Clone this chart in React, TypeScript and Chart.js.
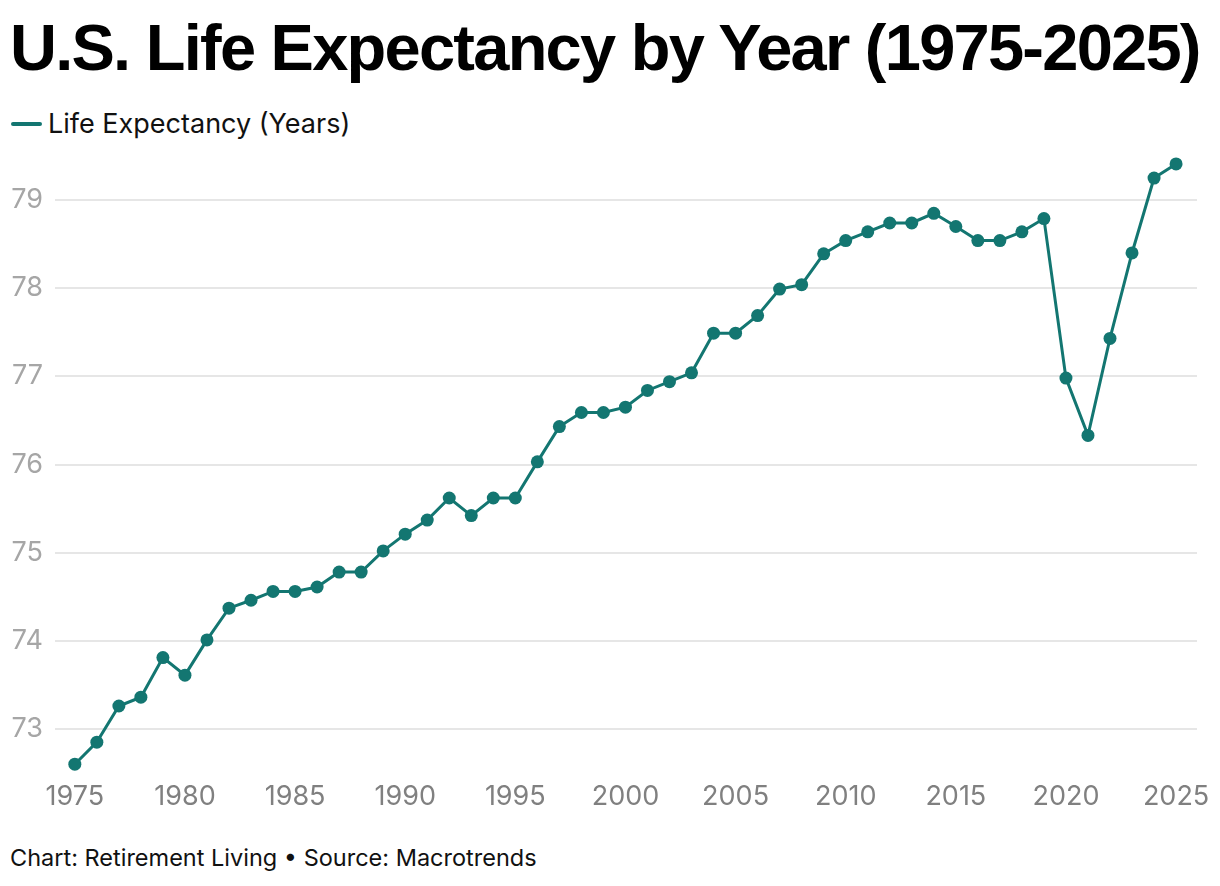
import React, { useEffect, useRef } from "react";
import { Chart, registerables } from "chart.js";

Chart.register(...registerables);

// Life expectancy at birth in the United States, by year
const years: number[] = [
  1975, 1976, 1977, 1978, 1979, 1980, 1981, 1982, 1983, 1984,
  1985, 1986, 1987, 1988, 1989, 1990, 1991, 1992, 1993, 1994,
  1995, 1996, 1997, 1998, 1999, 2000, 2001, 2002, 2003, 2004,
  2005, 2006, 2007, 2008, 2009, 2010, 2011, 2012, 2013, 2014,
  2015, 2016, 2017, 2018, 2019, 2020, 2021, 2022, 2023, 2024,
  2025,
];

const lifeExpectancy: number[] = [
  72.6, 72.85, 73.26, 73.36, 73.81, 73.61, 74.01, 74.37, 74.46, 74.56,
  74.56, 74.61, 74.78, 74.78, 75.02, 75.21, 75.37, 75.62, 75.42, 75.62,
  75.62, 76.03, 76.43, 76.59, 76.59, 76.65, 76.84, 76.94, 77.04, 77.49,
  77.49, 77.69, 77.99, 78.04, 78.39, 78.54, 78.64, 78.74, 78.74, 78.85,
  78.7, 78.54, 78.54, 78.64, 78.79, 76.98, 76.33, 77.43, 78.4, 79.25,
  79.41,
];

const yearTicks: number[] = [1975, 1980, 1985, 1990, 1995, 2000, 2005, 2010, 2015, 2020, 2025];
const valueTicks: number[] = [73, 74, 75, 76, 77, 78, 79];

const TITLE = "U.S. Life Expectancy by Year (1975-2025)";
const SERIES_LABEL = "Life Expectancy (Years)";
const FOOTER = "Chart: Retirement Living \u2022 Source: Macrotrends";

const TEAL = "#137671";
const UI_FONT = "Inter, 'Noto Sans', sans-serif";

export default function App() {
  const canvasRef = useRef<HTMLCanvasElement | null>(null);

  useEffect(() => {
    document.body.style.margin = "0";
    const canvas = canvasRef.current;
    if (!canvas) return;

    const chart = new Chart(canvas, {
      type: "line",
      data: {
        datasets: [
          {
            label: SERIES_LABEL,
            data: years.map((y, i) => ({ x: y, y: lifeExpectancy[i] })),
            borderColor: TEAL,
            backgroundColor: TEAL,
            borderWidth: 3,
            pointRadius: 6.5,
            pointHoverRadius: 6.5,
            pointBackgroundColor: TEAL,
            pointBorderWidth: 0,
            tension: 0,
          },
        ],
      },
      options: {
        animation: false,
        responsive: false,
        maintainAspectRatio: false,
        layout: { padding: { top: 16, right: 23, bottom: 0, left: 0 } },
        plugins: {
          legend: { display: false },
          title: { display: false },
          tooltip: { enabled: false },
        },
        scales: {
          x: {
            type: "linear",
            min: 1974.1,
            max: 2025.95,
            border: { display: false },
            grid: { display: false, drawTicks: false },
            afterBuildTicks: (scale: any) => {
              scale.ticks = yearTicks.map((v) => ({ value: v }));
            },
            afterFit: (scale: any) => {
              scale.height = 47;
              scale.paddingLeft = 0;
              scale.paddingRight = 0;
            },
            ticks: {
              color: "#808080",
              font: { family: UI_FONT, size: 27 },
              padding: 8,
              maxRotation: 0,
              autoSkip: false,
              callback: (v: any) => String(v),
            },
          },
          y: {
            min: 72.5,
            max: 79.5,
            border: { display: false },
            grid: { color: "#e6e6e6", lineWidth: 2, drawTicks: false },
            afterBuildTicks: (scale: any) => {
              scale.ticks = valueTicks.map((v) => ({ value: v }));
            },
            afterFit: (scale: any) => {
              scale.width = 55;
              scale.paddingTop = 0;
              scale.paddingBottom = 0;
            },
            ticks: {
              color: "#a6a6a6",
              font: { family: UI_FONT, size: 27 },
              padding: 12,
              callback: (v: any) => String(v),
            },
          },
        },
      },
    });

    return () => chart.destroy();
  }, []);

  return (
    <div style={{ position: "relative", width: 1220, height: 886, background: "#fff", overflow: "hidden" }}>
      <div
        style={{
          position: "absolute",
          left: 10,
          top: 10,
          fontFamily: "'Liberation Sans', Arial, sans-serif",
          fontWeight: 700,
          fontSize: 65,
          letterSpacing: "-1.75px",
          lineHeight: "76px",
          color: "#000",
          whiteSpace: "nowrap",
        }}
      >
        {TITLE}
      </div>
      <div
        style={{
          position: "absolute",
          left: 11,
          top: 107,
          display: "flex",
          alignItems: "center",
          fontFamily: UI_FONT,
          fontSize: 27,
          lineHeight: "34px",
          color: "#111",
        }}
      >
        <span
          style={{
            display: "inline-block",
            width: 31,
            height: 4,
            borderRadius: 2,
            background: TEAL,
            marginRight: 6,
          }}
        />
        <span>{SERIES_LABEL}</span>
      </div>
      <canvas
        ref={canvasRef}
        width={1220}
        height={680}
        style={{ position: "absolute", left: 0, top: 140, width: 1220, height: 680 }}
      />
      <div
        style={{
          position: "absolute",
          left: 10,
          top: 843,
          fontFamily: UI_FONT,
          fontSize: 23.5,
          lineHeight: "30px",
          color: "#111",
          whiteSpace: "nowrap",
        }}
      >
        {FOOTER}
      </div>
    </div>
  );
}
